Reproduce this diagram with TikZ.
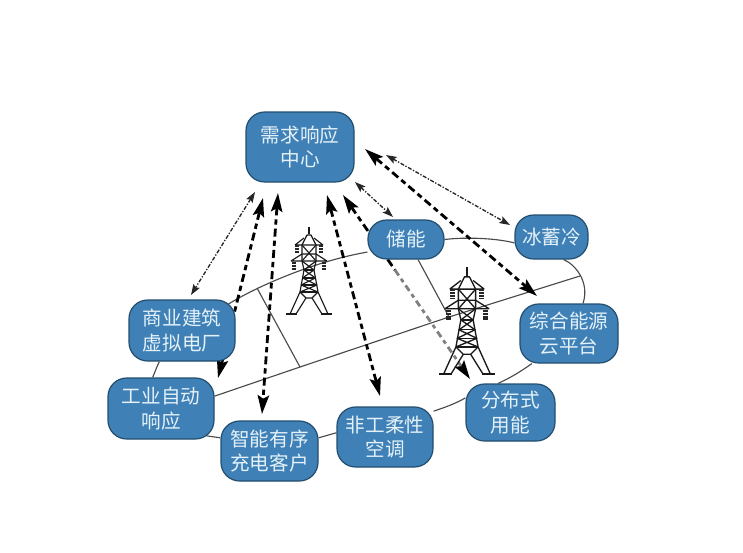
\documentclass[tikz,border=0pt]{standalone}
\usepackage{fontspec}
\setmainfont{Noto Sans CJK SC}
\usetikzlibrary{arrows.meta,backgrounds}
\definecolor{boxfill}{HTML}{3F81B7}
\definecolor{boxedge}{HTML}{234E6E}
\definecolor{boxtext}{HTML}{E4F1F8}
\definecolor{wire}{HTML}{4A4A4A}
\tikzset{
 x=0.75pt,y=-0.75pt,
 hub/.style={draw=boxedge,line width=0.9pt,fill=boxfill,rounded corners=14pt,text=boxtext,align=center,inner sep=0pt,font=\fontsize{14.7pt}{18.6pt}\selectfont},
 wireline/.style={draw=wire,line width=0.85pt},
 thinarrow/.style={draw=black!85,line width=1pt,dash pattern=on 3pt off 1.2pt on 1pt off 1.2pt,{Stealth[length=8pt,width=5.5pt,inset=1.5pt]}-{Stealth[length=8pt,width=5.5pt,inset=1.5pt]}},
 thickarrow/.style={draw=black,line width=2.1pt,dash pattern=on 6pt off 3pt on 4pt off 3pt,{Stealth[length=14pt,width=8.5pt,inset=2.5pt]}-{Stealth[length=14pt,width=8.5pt,inset=2.5pt]}},
 fadedarrow/.style={draw=black!50,line width=2.1pt,dash pattern=on 5pt off 3pt on 3pt off 3pt,-{Stealth[length=14pt,width=8.5pt,inset=2.5pt,black]}},
 upperarrow/.style={draw=black,line width=2.1pt,dash pattern=on 6pt off 3pt on 4pt off 3pt,{Stealth[length=14pt,width=8.5pt,inset=2.5pt]}-},
}
\newcommand{\hubbox}[6]{\node[hub,minimum width=#3*0.75pt,minimum height=#4*0.75pt] (#5) at (#1,#2) {#6};}
% tower: centre x, top y, scale, line width
\newcommand{\drawtower}[4]{%
\begin{scope}[shift={(#1,#2)},x=#3*0.75pt,y=-#3*0.75pt,draw=black!90,line width=#4,line join=round]
 \draw (0,0) -- (0,7);
 \draw (-7,18) -- (-2,8) -- (2,8) -- (7,18);
 \draw (-14,18) -- (14,18) (-14,18) -- (-5,11) (14,18) -- (5,11);
 \draw (-18,34) -- (18,34) (-18,34) -- (-7,27) -- (7,27) -- (18,34);
 \draw (-7,18) -- (-7,34) -- (-5,43) -- (-9,65) -- (-19,87) (7,18) -- (7,34) -- (5,43) -- (9,65) -- (19,87);
 \draw (-7,18) -- (7,34) (7,18) -- (-7,34);
 \draw (-7,34) -- (5,43) (7,34) -- (-5,43);
 \draw (-5,43) -- (5,43) (-6.5,51) -- (6.5,51) (-8,58) -- (8,58) (-9,65) -- (9,65);
 \draw (-5,43) -- (6.5,51) -- (-8,58) -- (9,65) (5,43) -- (-6.5,51) -- (8,58) -- (-9,65);
 \draw (-9,65) -- (-3,71) -- (-13,87) (9,65) -- (3,71) -- (13,87) (-3,71) -- (3,71);
 \draw[line width=1.3*#4] (-23,87) -- (-12,87) (12,87) -- (23,87);
 \foreach \px/\py in {-12/17,12/17,-15/34,15/34}
  \draw[line width=3.2*#3 pt,draw=black!85,dash pattern=on 1.6pt off 0.5pt] (\px,\py+1) -- (\px,\py+9);
\end{scope}}
\begin{document}
\begin{tikzpicture}
\useasboundingbox (0,0) rectangle (743,553);
\hubbox{300}{147}{108}{70}{hubc}{需求响应\\中心}
\hubbox{406}{239.5}{76}{39}{chu}{储能}
\hubbox{551.5}{237}{73}{44}{bing}{冰蓄冷}
\hubbox{569}{333.5}{98}{59}{zong}{综合能源\\云平台}
\hubbox{510.5}{412.5}{89}{57}{fen}{分布式\\用能}
\hubbox{385}{437}{96}{60}{fei}{非工柔性\\空调}
\hubbox{269.5}{451}{97}{60}{zhi}{智能有序\\充电客户}
\hubbox{161}{408.5}{106}{61}{gong}{工业自动\\响应}
\hubbox{182}{330.5}{106}{61}{shang}{商业建筑\\虚拟电厂}
\coordinate (jr) at (580,276);
\coordinate (up) at (257,288);
\coordinate (mid) at (300,367);
\coordinate (low) at (449,317);
\coordinate (a1) at (255,192); \coordinate (a2) at (191,295);
\coordinate (b1) at (263,198); \coordinate (b2) at (218,378);
\coordinate (c1) at (278,193); \coordinate (c2) at (262,414);
\coordinate (d1) at (327,195); \coordinate (d2) at (380,396);
\coordinate (e1) at (343,195); \coordinate (em) at (395,270); \coordinate (e2) at (470,379);
\coordinate (f1) at (355,182); \coordinate (f2) at (393,217);
\coordinate (g1) at (365,149); \coordinate (g2) at (537,296);
\coordinate (h1) at (386,155); \coordinate (h2) at (510,225);
\begin{scope}[on background layer]
 \draw[wireline,shorten <=-8pt] (shang.north east) .. controls (250,290) and (310,262) .. (chu.198);
 \draw[wireline] (chu.east) .. controls (465,237) and (495,238) .. (bing.189);
 \draw[wireline] (bing.-62) .. controls (575,264) and (590,282) .. (zong.65);
 \draw[wireline] (zong.-141) .. controls (520,372) and (510,378) .. (fen.113);
 \draw[wireline] (fen.162) .. controls (455,404) and (443,408) .. (fei.28);
 \draw[wireline] (fei.175) -- (zhi.15);
 \draw[wireline,shorten >=-6pt] (zhi.165) -- (gong.-28);
 \draw[wireline] (gong.105) .. controls (155,372) and (157,366) .. (shang.-126);
 \draw[wireline] (gong.13) -- (mid) -- (low) -- (jr);
 \draw[wireline] (up) -- (mid);
 \draw[wireline] (chu.-59) -- (low);
 \draw[thinarrow] (a1) -- (a2);
 \draw[thickarrow] (b1) -- (b2);
 \draw[thickarrow] (c1) -- (c2);
 \draw[thickarrow] (d1) -- (d2);
 \draw[upperarrow] (e1) -- (em);
 \draw[fadedarrow] (em) -- (e2);
 \draw[thinarrow] (f1) -- (f2);
 \draw[thickarrow] (g1) -- (g2);
 \draw[thinarrow] (h1) -- (h2);
 \drawtower{309}{227}{1}{0.85pt}
 \drawtower{467}{267}{1.23}{1pt}
\end{scope}
\end{tikzpicture}
\end{document}
